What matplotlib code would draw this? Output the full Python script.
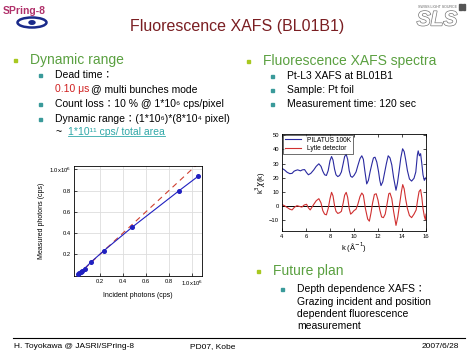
import numpy as np
import matplotlib
matplotlib.use('Agg')
import matplotlib.pyplot as plt
import matplotlib.patheffects as pe
from matplotlib.patches import Ellipse, Rectangle

# --- data: dead-time measurement (units of 1e6 cps)
incident = [0.008, 0.018, 0.03, 0.045, 0.065, 0.125, 0.235, 0.48, 0.89, 1.055]
measured = [0.01, 0.02, 0.03, 0.042, 0.065, 0.13, 0.235, 0.455, 0.80, 0.935]
ideal_x = [0.0, 1.1]
ideal_y = [0.0, 1.1]

# --- data: Pt-L3 EXAFS k^3 chi(k)
k_pil = [4.0, 4.2, 4.42, 4.65, 4.84, 5.0, 5.12, 5.3, 5.54, 5.7, 5.88, 6.05, 6.2, 6.4, 6.65,
         6.85, 7.07, 7.25, 7.4, 7.55, 7.7, 7.85, 8.0, 8.13, 8.25, 8.38, 8.5, 8.65, 8.8, 8.95,
         9.1, 9.22, 9.35, 9.47, 9.6, 9.72, 9.85, 10.0, 10.17, 10.32, 10.5, 10.65, 10.78, 10.9,
         11.06, 11.2, 11.35, 11.5, 11.62, 11.75, 11.9, 12.05, 12.15, 12.25, 12.4, 12.55, 12.7,
         12.85, 13.0, 13.15, 13.3, 13.5, 13.62, 13.75, 13.9, 14.05, 14.18, 14.3, 14.45, 14.62,
         14.8, 15.0, 15.15, 15.28, 15.35, 15.45, 15.55, 15.65, 15.75, 15.86, 16.0]
chi_pil = [26.5, 25.5, 23.8, 22.8, 23, 24.5, 25, 25.5, 24.8, 25.5, 25.7, 23.5, 22, 23, 25.5,
           28, 29.8, 28, 24.5, 22, 21.5, 25, 32, 35, 32.5, 26, 22, 20.7, 21.5, 24,
           30, 35, 36.5, 33, 25, 21, 20.2, 21.5, 24, 28.5, 33.5, 35.5, 33, 25,
           15.5, 18, 24.5, 30, 34, 34.5, 31, 24, 18, 14.3, 17, 23.5, 30,
           35.5, 34, 29, 20, 11, 16, 24, 34, 40.5, 38.5, 33, 25, 19,
           17.5, 19.5, 24, 36, 39, 35.5, 37, 30, 22, 18, 20]
k_ly = [4.0, 4.2, 4.42, 4.65, 4.84, 5.05, 5.25, 5.45, 5.66, 5.85, 6.05, 6.2, 6.35, 6.5, 6.65,
        6.85, 7.07, 7.25, 7.4, 7.55, 7.7, 7.85, 8.0, 8.13, 8.25, 8.38, 8.5, 8.65, 8.8, 8.95,
        9.1, 9.22, 9.35, 9.47, 9.6, 9.72, 9.85, 10.0, 10.17, 10.32, 10.5, 10.65, 10.78, 10.95,
        11.14, 11.28, 11.42, 11.55, 11.7, 11.85, 12.0, 12.15, 12.3, 12.45, 12.6, 12.75, 12.9,
        13.0, 13.15, 13.3, 13.5, 13.65, 13.8, 13.95, 14.06, 14.18, 14.3, 14.45, 14.62, 14.8,
        15.0, 15.18, 15.3, 15.42, 15.55, 15.65, 15.75, 15.86, 15.95, 16.0]
chi_ly = [0.8, 0, -1.2, -2.5, -3, -1, 0, -0.5, -1, 0.5, 1, -1.5, -3, -1, 1,
          3.5, 5, 2, -3.5, -6, -6.5, -2, 5, 9.5, 7, 0, -4, -5.5, -5, -4,
          2, 7.5, 9.5, 6, -2, -6, -5, -3.5, -2.5, 1, 6.5, 9, 7.5, -2,
          -9.5, -11, -5, 2, 8, 8.5, 4, -3, -8, -8.5, -6, 1, 8.5,
          9, 5, -4, -14, -8, 1, 10, 15, 12, 5, -2, -7, -8.5,
          -6, -3, 4, 10, 11.5, 6, -2, -7.5, -10, -6]

W, H = 474, 355
FONT = ['Liberation Sans', 'DejaVu Sans', 'Noto Sans CJK JP']
plt.rcParams['font.family'] = FONT


def P(x, y):
    return x / W, 1 - y / H


def rect(l, t, r, b):
    return [l / W, 1 - b / H, (r - l) / W, (b - t) / H]


fig = plt.figure(figsize=(W / 100, H / 100), dpi=100)
fig.patch.set_facecolor('white')

# header
fig.text(*P(237, 27), 'Fluorescence XAFS (BL01B1)', fontsize=11.5, color='#7a1e22',
         ha='center', va='center')
fig.text(*P(3, 11), 'SPring-8', fontsize=7.5, color='#b0306a', ha='left', va='center',
         fontweight='bold')
fig.patches.append(Ellipse(P(32, 22.5), 29 / W, 10 / H, transform=fig.transFigure,
                           fill=False, edgecolor='#1a2a8a', lw=1.8))
fig.patches.append(Ellipse(P(32, 22.5), 6 / W, 3.5 / H, transform=fig.transFigure,
                           color='#1a2a8a'))
fig.text(*P(437, 7), 'SWISS LIGHT SOURCE', fontsize=2.6, color='#666666', ha='center', va='center')
fig.text(*P(437, 20), 'SLS', fontsize=15, color='white', ha='center', va='center',
         fontweight='bold', fontstyle='italic',
         path_effects=[pe.withStroke(linewidth=1.0, foreground='#777777')])
for i in range(2):
    for j in range(2):
        fig.patches.append(Rectangle(P(459 + 3.5 * i, 10 - 3.5 * j), 2.8 / W, 2.8 / H,
                                     transform=fig.transFigure, color='#555555'))


def bullet1(x, y, s):
    fig.patches.append(Rectangle(P(x - 16, y + 1.5), 3 / W, 3 / H,
                                 transform=fig.transFigure, color='#a8c820'))
    fig.text(*P(x, y), s, fontsize=10, color='#5aa040', ha='left', va='center')


def bullet2(x, y, s):
    fig.patches.append(Rectangle(P(x - 16, y + 1.5), 2.5 / W, 2.5 / H,
                                 transform=fig.transFigure, color='#3a9a9a'))
    fig.text(*P(x, y), s, fontsize=7.5, color='black', ha='left', va='center')


# left column
bullet1(30, 60, 'Dynamic range')
bullet2(55, 75, 'Dead time：')
fig.text(*P(55, 89), '0.10 μs', fontsize=7.5, color='#d02020', ha='left', va='center')
fig.text(*P(91, 89), '@ multi bunches mode', fontsize=7.5, color='black', ha='left', va='center')
bullet2(55, 104, 'Count loss：10 % @ 1*10⁶ cps/pixel')
bullet2(55, 119, 'Dynamic range：(1*10⁶)*(8*10⁴ pixel)')
fig.text(*P(55, 132), '~', fontsize=7.5, color='black', ha='left', va='center')
ul = fig.text(*P(68, 132), '1*10¹¹ cps/ total area', fontsize=7.5, color='#30a8a8',
              ha='left', va='center')

# right column
bullet1(263, 61, 'Fluorescence XAFS spectra')
bullet2(287, 76, 'Pt-L3 XAFS at BL01B1')
bullet2(287, 90, 'Sample: Pt foil')
bullet2(287, 104, 'Measurement time: 120 sec')
bullet1(273, 271, 'Future plan')
bullet2(297, 289, 'Depth dependence XAFS：')
for yy, s in [(302, 'Grazing incident and position'), (314, 'dependent fluorescence'),
              (326, 'measurement')]:
    fig.text(*P(297, yy), s, fontsize=7.5, color='black', ha='left', va='center')

# footer
fig.add_artist(plt.Line2D([13 / W, 465 / W], [1 - 337.5 / H] * 2, color='black', lw=0.8))
fig.text(*P(14, 347), 'H. Toyokawa @ JASRI/SPring-8', fontsize=6, ha='left', va='center')
fig.text(*P(190, 347), 'PD07, Kobe', fontsize=6, ha='left', va='center')
fig.text(*P(459, 347), '2007/6/28', fontsize=6, ha='right', va='center')

# left chart
ax1 = fig.add_axes(rect(74, 166, 202, 276))
ax1.plot(ideal_x, ideal_y, color='#d04030', lw=0.8, dashes=(5, 4), zorder=2)
ax1.plot(incident, measured, color='#2020c0', lw=0.8, marker='o', ms=2.6, zorder=3)
ax1.set_xlim(-0.027, 1.09)
ax1.set_ylim(-0.005, 1.033)
ax1.set_xticks([0.2, 0.4, 0.6, 0.8, 1.0])
ax1.set_xticklabels(['0.2', '0.4', '0.6', '0.8', '1.0x10$^6$'])
ax1.set_yticks([0.2, 0.4, 0.6, 0.8, 1.0])
ax1.set_yticklabels(['0.2', '0.4', '0.6', '0.8', '1.0x10$^6$'])
ax1.grid(True, color='#dddddd', lw=0.6)
ax1.tick_params(labelsize=4.2, length=2, width=0.5, direction='in', pad=2)
ax1.set_xlabel('Incident photons (cps)', fontsize=5, labelpad=3)
ax1.set_ylabel('Measured photons (cps)', fontsize=5, labelpad=3)
for s in ax1.spines.values():
    s.set_linewidth(0.6)

# right chart
ax2 = fig.add_axes(rect(282, 134, 426, 231))
ax2.axhline(0, color='black', lw=0.7)
ax2.plot(k_pil, chi_pil, color='#2a2aa0', lw=0.8, label='PILATUS 100K')
ax2.plot(k_ly, chi_ly, color='#d03030', lw=0.8, label='Lytle detector')
ax2.set_xlim(4, 16)
ax2.set_ylim(-18, 51)
ax2.set_xticks([4, 6, 8, 10, 12, 14, 16])
ax2.set_yticks([-10, 0, 10, 20, 30, 40, 50])
ax2.tick_params(labelsize=4.2, length=2, width=0.5, direction='in', top=True, right=True, pad=2)
ax2.set_xlabel('k (Å$^{-1}$)', fontsize=5.5, labelpad=1)
ax2.set_ylabel('k$^3\\chi$(k)', fontsize=5.5, labelpad=1)
leg = ax2.legend(loc='upper left', fontsize=4.8, frameon=True, fancybox=False,
                 borderpad=0.3, handlelength=2.5, borderaxespad=0.1, labelspacing=0.2)
leg.get_frame().set_edgecolor('black')
leg.get_frame().set_linewidth(0.5)
for s in ax2.spines.values():
    s.set_linewidth(0.6)

# underline for the teal link text
fig.canvas.draw()
bb = ul.get_window_extent().transformed(fig.transFigure.inverted())
fig.add_artist(plt.Line2D([bb.x0, bb.x1], [bb.y0 + 0.002] * 2, color='#30a8a8', lw=0.6))

fig.savefig('out.png', dpi=100)
